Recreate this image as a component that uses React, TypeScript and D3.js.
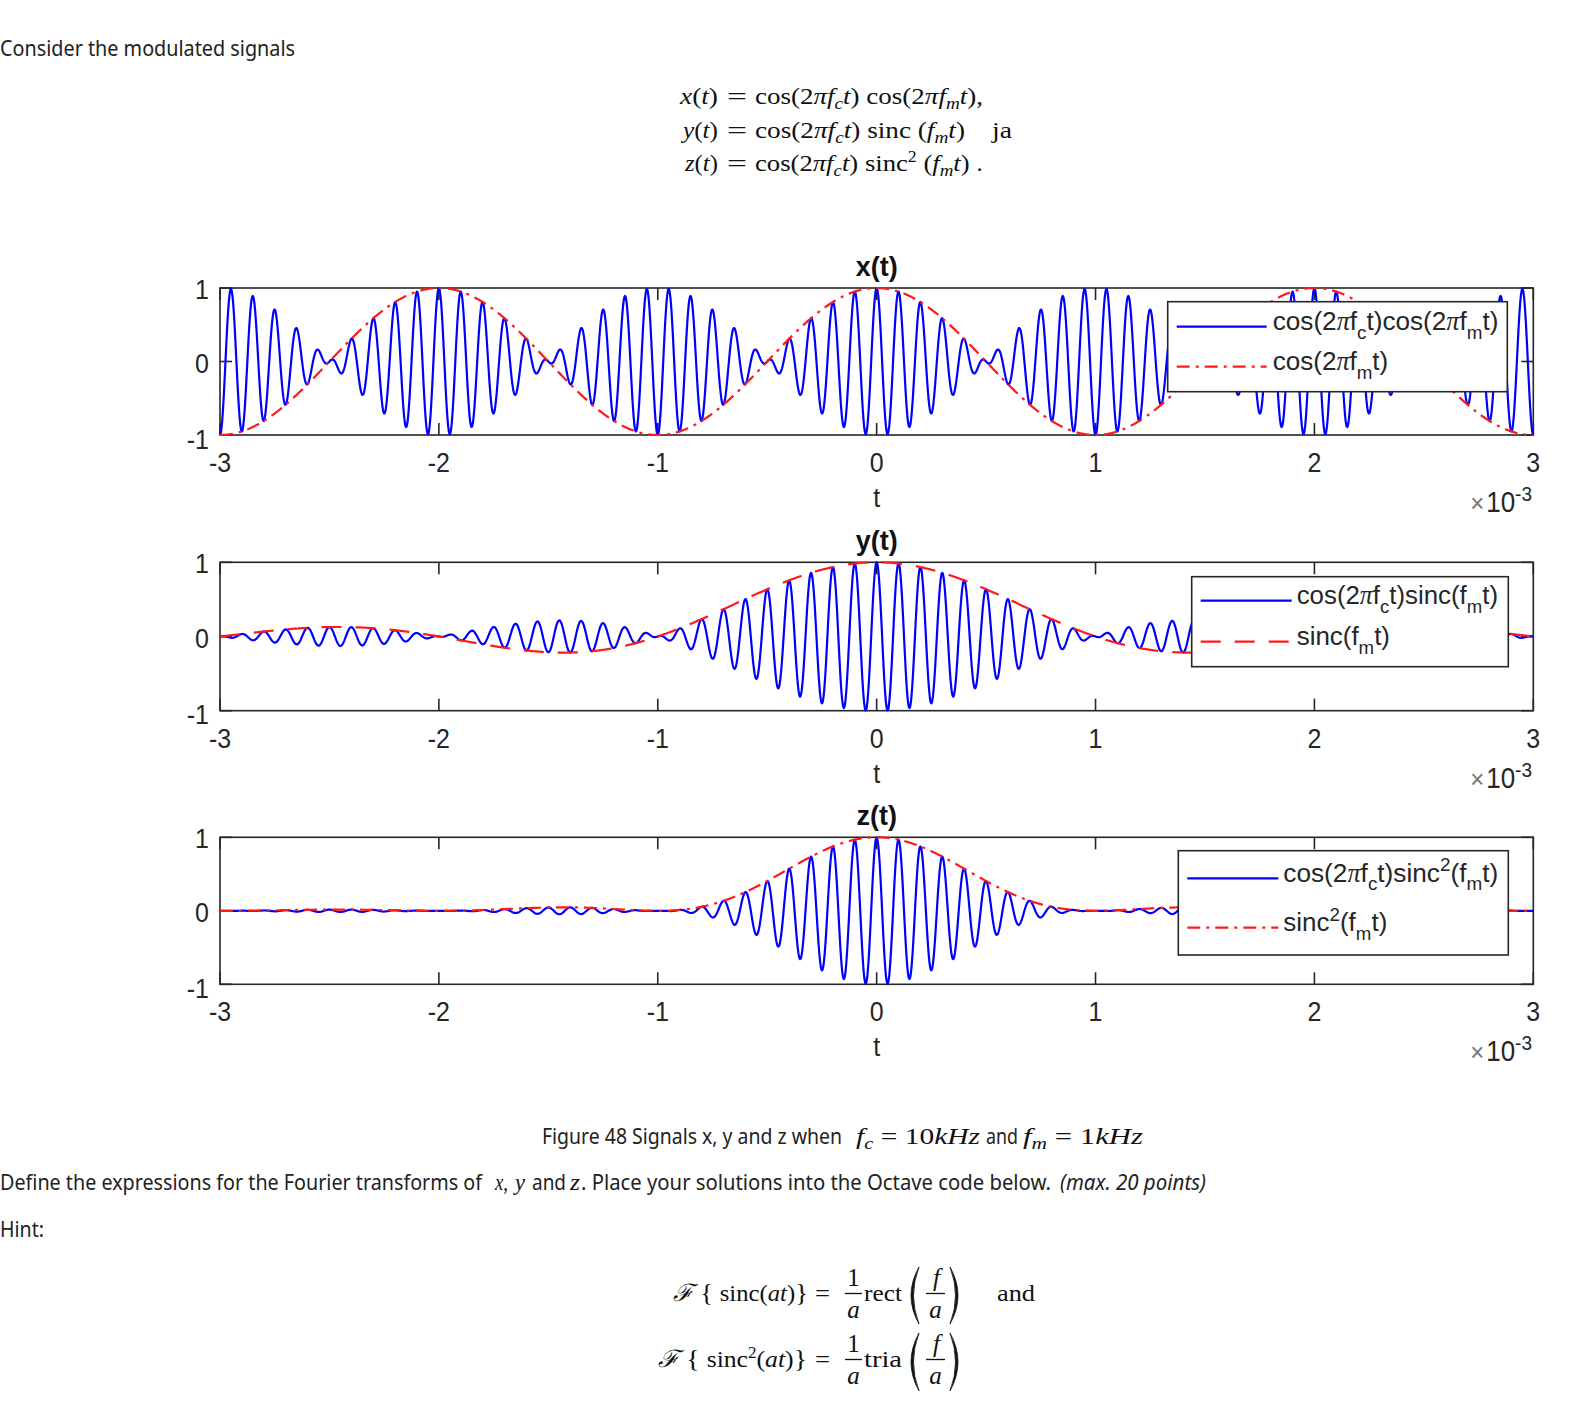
import React from 'react';
import * as d3 from 'd3';

// ---------------- data ----------------
const timeDomainMs = [-3, 3];
const xTickValues = [-3, -2, -1, 0, 1, 2, 3];
const yTickValues = [-1, 0, 1];
const panelTitles = ['x(t)', 'y(t)', 'z(t)'];
const carrierFreqKHz = [10]; // f_c = 10 kHz (caption)
const modFreqKHz = [1]; // f_m = 1 kHz (caption)
const xEnvelopeFreqKHz = [0.5]; // envelope drawn in panel x(t) has a 2 ms period
const sampleCount = 2401;

const tSamples = d3.range(sampleCount).map(
  (i) => timeDomainMs[0] + ((timeDomainMs[1] - timeDomainMs[0]) * i) / (sampleCount - 1)
);
const sinc = (u: number) => (Math.abs(u) < 1e-12 ? 1 : Math.sin(Math.PI * u) / (Math.PI * u));
const carrier = tSamples.map((t) => Math.cos(2 * Math.PI * carrierFreqKHz[0] * t));
const envelopeX = tSamples.map((t) => Math.cos(2 * Math.PI * xEnvelopeFreqKHz[0] * t));
const envelopeY = tSamples.map((t) => sinc(modFreqKHz[0] * t));
const envelopeZ = envelopeY.map((v) => v * v);
const envelopes = [envelopeX, envelopeY, envelopeZ];

type Seg = { t: string; sub?: boolean; sup?: boolean; sym?: boolean; it?: boolean };
const legendBlue: Seg[][] = [
  [{ t: 'cos(2' }, { t: 'π', sym: true }, { t: 'f' }, { t: 'c', sub: true }, { t: 't)cos(2' }, { t: 'π', sym: true }, { t: 'f' }, { t: 'm', sub: true }, { t: 't)' }],
  [{ t: 'cos(2' }, { t: 'π', sym: true }, { t: 'f' }, { t: 'c', sub: true }, { t: 't)sinc(f' }, { t: 'm', sub: true }, { t: 't)' }],
  [{ t: 'cos(2' }, { t: 'π', sym: true }, { t: 'f' }, { t: 'c', sub: true }, { t: 't)sinc' }, { t: '2', sup: true }, { t: '(f' }, { t: 'm', sub: true }, { t: 't)' }],
];
const legendRed: Seg[][] = [
  [{ t: 'cos(2' }, { t: 'π', sym: true }, { t: 'f' }, { t: 'm', sub: true }, { t: 't)' }],
  [{ t: 'sinc(f' }, { t: 'm', sub: true }, { t: 't)' }],
  [{ t: 'sinc' }, { t: '2', sup: true }, { t: '(f' }, { t: 'm', sub: true }, { t: 't)' }],
];

// ---------------- layout / style ----------------
const W = 1586;
const H = 1416;
const X0 = 220;
const X1 = 1533.3;
const panelBoxes = [
  { top: 288, bottom: 435 },
  { top: 562.3, bottom: 710.7 },
  { top: 837.3, bottom: 984.3 },
];
const redDash = ['13,6,3,6', '20,14', '13,6,3,6'];
const legendBoxes = [
  { x: 1167.7, y: 301.7, w: 339.6, h: 90, l0: 1176.7, l1: 1266.7, tx: 1272.7, rows: [326.7, 366.7], tw: [225.7, 115.6] },
  { x: 1191.7, y: 576.7, w: 316.6, h: 90, l0: 1200.7, l1: 1291.7, tx: 1296.7, rows: [600.7, 641.7], tw: [201.3, 93.3] },
  { x: 1178.3, y: 850.7, w: 330, h: 104.3, l0: 1187.3, l1: 1278.3, tx: 1283.3, rows: [878.3, 927.7], tw: [215, 104] },
];

const FONT_AX = "'Liberation Sans', Arial, Helvetica, sans-serif";
const FONT_BODY = "'Noto Sans', 'Open Sans', sans-serif";
const FONT_MATH = "'Liberation Serif', 'DejaVu Serif', serif";
const AX = '#262626';
const TXT = '#222222';
const SY = 1.1;

function Rich({ segs, x, y, size, textLength, sy = SY, fill = AX }: any) {
  let shift = 0;
  const kids = segs.map((s: Seg, i: number) => {
    const target = s.sub ? size * 0.32 : s.sup ? -size * 0.4 : 0;
    const dy = target - shift;
    shift = target;
    return (
      <tspan
        key={i}
        dy={dy}
        fontSize={s.sub || s.sup ? size * 0.72 : size}
        fontFamily={s.sym ? FONT_MATH : undefined}
        fontStyle={s.sym ? 'italic' : undefined}
      >
        {s.t}
      </tspan>
    );
  });
  return (
    <text
      transform={`translate(${x},${y}) scale(1,${sy})`}
      fontFamily={FONT_AX}
      fontSize={size}
      fill={fill}
      textLength={textLength}
      lengthAdjust="spacingAndGlyphs"
    >
      {kids}
    </text>
  );
}

function Panel({ idx }: { idx: number }) {
  const box = panelBoxes[idx];
  const xs = d3.scaleLinear().domain(timeDomainMs).range([X0, X1]);
  const ys = d3.scaleLinear().domain([-1, 1]).range([box.bottom, box.top]);
  const env = envelopes[idx];
  const sig = carrier.map((c, i) => c * env[i]);
  const line = d3
    .line<number>()
    .x((_, i) => xs(tSamples[i]))
    .y((v) => ys(v));
  const lg = legendBoxes[idx];
  const tick = 12;
  return (
    <g>
      <rect x={X0} y={box.top} width={X1 - X0} height={box.bottom - box.top} fill="white" stroke={AX} strokeWidth={1.6} />
      {xTickValues.map((v) => (
        <g key={'xt' + v}>
          <line x1={xs(v)} x2={xs(v)} y1={box.bottom} y2={box.bottom - tick} stroke={AX} strokeWidth={1.6} />
          <line x1={xs(v)} x2={xs(v)} y1={box.top} y2={box.top + tick} stroke={AX} strokeWidth={1.6} />
          <text
            transform={`translate(${xs(v)},${box.bottom + 37}) scale(1,${SY})`}
            textAnchor="middle"
            fontFamily={FONT_AX}
            fontSize={25}
            fill={AX}
          >
            {String(v)}
          </text>
        </g>
      ))}
      {yTickValues.map((v) => {
        const dy = v === -1 ? 13.5 : 11;
        return (
          <g key={'yt' + v}>
            <line x1={X0} x2={X0 + tick} y1={ys(v)} y2={ys(v)} stroke={AX} strokeWidth={1.6} />
            <line x1={X1} x2={X1 - tick} y1={ys(v)} y2={ys(v)} stroke={AX} strokeWidth={1.6} />
            <text
              transform={`translate(209,${ys(v) + dy}) scale(1,${SY})`}
              textAnchor="end"
              fontFamily={FONT_AX}
              fontSize={25}
              fill={AX}
            >
              {String(v)}
            </text>
          </g>
        );
      })}
      <text
        transform={`translate(${(X0 + X1) / 2},${box.top - 12}) scale(1,1.05)`}
        textAnchor="middle"
        fontFamily={FONT_AX}
        fontWeight="bold"
        fontSize={27}
        fill="#111"
      >
        {panelTitles[idx]}
      </text>
      <text
        transform={`translate(${(X0 + X1) / 2},${box.bottom + 72}) scale(1,${SY})`}
        textAnchor="middle"
        fontFamily={FONT_AX}
        fontSize={25}
        fill={AX}
      >
        t
      </text>
      <text
        transform={`translate(1532,${box.bottom + 77}) scale(1,${SY})`}
        textAnchor="end"
        fontFamily={FONT_AX}
        fontSize={26}
        fill={AX}
      >
        <tspan fontSize={24} fill="#777">×</tspan>
        <tspan dx={2}>10</tspan>
        <tspan dy={-10} fontSize={19}>-3</tspan>
      </text>
      <path d={line(sig) || ''} fill="none" stroke="#0000ff" strokeWidth={2.2} strokeLinejoin="round" />
      <path d={line(env) || ''} fill="none" stroke="#ff1a1a" strokeWidth={2.2} strokeDasharray={redDash[idx]} />
      <rect x={lg.x} y={lg.y} width={lg.w} height={lg.h} fill="white" stroke={AX} strokeWidth={1.6} />
      <line x1={lg.l0} x2={lg.l1} y1={lg.rows[0]} y2={lg.rows[0]} stroke="#0000ff" strokeWidth={2.2} />
      <line x1={lg.l0} x2={lg.l1} y1={lg.rows[1]} y2={lg.rows[1]} stroke="#ff1a1a" strokeWidth={2.2} strokeDasharray={redDash[idx]} />
      <Rich segs={legendBlue[idx]} x={lg.tx} y={lg.rows[0] + 3.5} size={24} textLength={lg.tw[0]} />
      <Rich segs={legendRed[idx]} x={lg.tx} y={lg.rows[1] + 3.5} size={24} textLength={lg.tw[1]} />
    </g>
  );
}

function Paren({ x, top, bottom, left }: any) {
  const mid = (top + bottom) / 2;
  const w = 12;
  const d = left
    ? `M${x + w},${top} Q${x - 4},${mid} ${x + w},${bottom} Q${x + 1},${mid} ${x + w},${top} Z`
    : `M${x},${top} Q${x + w + 4},${mid} ${x},${bottom} Q${x + w - 1},${mid} ${x},${top} Z`;
  return <path d={d} fill="#111" stroke="#111" strokeWidth={0.8} />;
}

function MathT({ x, y, w, children, size = 24, anchor }: any) {
  return (
    <text
      x={x}
      y={y}
      fontFamily={FONT_MATH}
      fontSize={size}
      fill="#111"
      textLength={w}
      lengthAdjust={w ? 'spacingAndGlyphs' : undefined}
      textAnchor={anchor}
    >
      {children}
    </text>
  );
}

const I = ({ children }: any) => <tspan fontStyle="italic">{children}</tspan>;

const FsubT = ({ s }: { s: string }) => (
  <>
    <tspan fontStyle="italic">f</tspan>
    <tspan dy={5} fontSize={17} fontStyle="italic">{s}</tspan>
    <tspan dy={-5} fontStyle="italic">t</tspan>
  </>
);

function Equations() {
  return (
    <g>
      <MathT x={680} y={104} w={38}><I>x</I>(<I>t</I>)</MathT>
      <MathT x={727} y={104} w={20}>=</MathT>
      <MathT x={755} y={104} w={228}>
        cos(2<I>π</I><FsubT s="c" />) cos(2<I>π</I><FsubT s="m" />),
      </MathT>
      <MathT x={683} y={137.7} w={35}><I>y</I>(<I>t</I>)</MathT>
      <MathT x={727} y={137.7} w={20}>=</MathT>
      <MathT x={755} y={137.7} w={210}>
        cos(2<I>π</I><FsubT s="c" />) sinc (<FsubT s="m" />)
      </MathT>
      <MathT x={992} y={137.7} w={20}>ja</MathT>
      <MathT x={685} y={170.7} w={33}><I>z</I>(<I>t</I>)</MathT>
      <MathT x={727} y={170.7} w={20}>=</MathT>
      <MathT x={755} y={170.7} w={228}>
        cos(2<I>π</I><FsubT s="c" />) sinc<tspan dy={-9} fontSize={16}>2</tspan><tspan dy={9}> (</tspan><FsubT s="m" />) .
      </MathT>
    </g>
  );
}

function BodyText() {
  return (
    <g fill={TXT}>
      <text x={0} y={56} fontFamily={FONT_BODY} fontSize={21} textLength={295} lengthAdjust="spacingAndGlyphs">
        Consider the modulated signals
      </text>
      <text x={542} y={1144} fontFamily={FONT_BODY} fontSize={21} textLength={300} lengthAdjust="spacingAndGlyphs">
        Figure 48 Signals x, y and z when
      </text>
      <MathT x={856} y={1144} w={124} size={23}>
        <tspan fontStyle="italic">f</tspan>
        <tspan dy={5} fontSize={16} fontStyle="italic">c</tspan>
        <tspan dy={-5}> = 10</tspan>
        <tspan fontStyle="italic">kHz</tspan>
      </MathT>
      <text x={986} y={1144} fontFamily={FONT_BODY} fontSize={21} textLength={32} lengthAdjust="spacingAndGlyphs">
        and
      </text>
      <MathT x={1023} y={1144} w={120} size={23}>
        <tspan fontStyle="italic">f</tspan>
        <tspan dy={5} fontSize={16} fontStyle="italic">m</tspan>
        <tspan dy={-5}> = 1</tspan>
        <tspan fontStyle="italic">kHz</tspan>
      </MathT>
      <text x={0} y={1190} fontFamily={FONT_BODY} fontSize={21} textLength={482} lengthAdjust="spacingAndGlyphs">
        Define the expressions for the Fourier transforms of
      </text>
      <MathT x={495} y={1190} w={13} size={23}><I>x</I>,</MathT>
      <MathT x={515} y={1190} w={10} size={23}><I>y</I></MathT>
      <text x={532} y={1190} fontFamily={FONT_BODY} fontSize={21} textLength={34} lengthAdjust="spacingAndGlyphs">
        and
      </text>
      <MathT x={570} y={1190} w={10} size={23}><I>z</I></MathT>
      <text x={581} y={1190} fontFamily={FONT_BODY} fontSize={21} textLength={470} lengthAdjust="spacingAndGlyphs">
        . Place your solutions into the Octave code below.
      </text>
      <text x={1060} y={1190} fontFamily={FONT_BODY} fontSize={21} fontStyle="italic" textLength={146} lengthAdjust="spacingAndGlyphs">
        (max. 20 points)
      </text>
      <text x={0} y={1237} fontFamily={FONT_BODY} fontSize={21} textLength={44} lengthAdjust="spacingAndGlyphs">
        Hint:
      </text>
    </g>
  );
}

function Hint() {
  const rows = [
    { base: 1301, fx: 673, lhsW: 135, sq: false, word: 'rect', top: 1267, bottom: 1324 },
    { base: 1367, fx: 658, lhsW: 149, sq: true, word: 'tria', top: 1333, bottom: 1391 },
  ];
  return (
    <g>
      {rows.map((r, i) => {
        const bar = r.base - 7.5;
        return (
          <g key={i}>
            <MathT x={r.fx} y={r.base} w={r.lhsW}>
              <tspan fontFamily="'DejaVu Serif', serif" fontStyle="italic">ℱ</tspan>
              <tspan fontSize={26}> {'{'} </tspan>
              <tspan>sinc</tspan>
              {r.sq ? <><tspan dy={-9} fontSize={16}>2</tspan><tspan dy={9}>(</tspan></> : <tspan>(</tspan>}
              <tspan fontStyle="italic">at</tspan>
              <tspan>)</tspan>
              <tspan fontSize={26}>{'}'}</tspan>
            </MathT>
            <MathT x={815} y={r.base} w={15}>=</MathT>
            <MathT x={853.5} y={bar - 8} size={25} anchor="middle">1</MathT>
            <line x1={845} x2={862} y1={bar} y2={bar} stroke="#111" strokeWidth={1.3} />
            <MathT x={853.5} y={bar + 24} size={25} anchor="middle"><I>a</I></MathT>
            <MathT x={864} y={r.base} w={38}>{r.word}</MathT>
            <Paren x={907} top={r.top} bottom={r.bottom} left />
            <MathT x={936.5} y={bar - 8} size={25} anchor="middle"><I>f</I></MathT>
            <line x1={926} x2={945} y1={bar} y2={bar} stroke="#111" strokeWidth={1.3} />
            <MathT x={935.5} y={bar + 24} size={25} anchor="middle"><I>a</I></MathT>
            <Paren x={950} top={r.top} bottom={r.bottom} left={false} />
            {i === 0 && <MathT x={997} y={r.base} w={38}>and</MathT>}
          </g>
        );
      })}
    </g>
  );
}

export default function App() {
  return (
    <svg
      width={W}
      height={H}
      viewBox={`0 0 ${W} ${H}`}
      style={{ position: 'absolute', left: 0, top: 0, background: 'white' }}
    >
      <rect x={0} y={0} width={W} height={H} fill="white" />
      <BodyText />
      <Equations />
      {[0, 1, 2].map((i) => (
        <Panel key={i} idx={i} />
      ))}
      <Hint />
    </svg>
  );
}
